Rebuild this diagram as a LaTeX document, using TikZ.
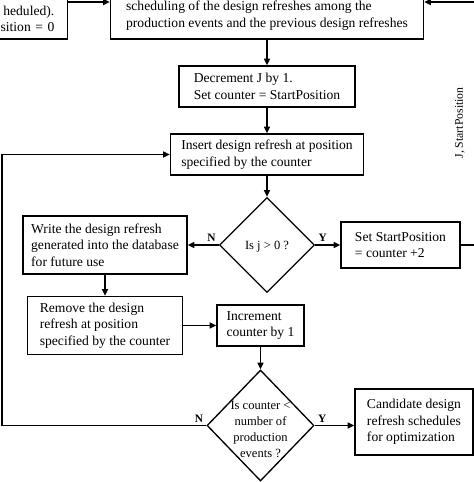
\documentclass[tikz,border=0pt]{standalone}
\usepackage{fontspec}
\setmainfont{Liberation Serif}
\usetikzlibrary{calc}
\usetikzlibrary{arrows.meta}
\usetikzlibrary{shapes.geometric}
\newcommand\dtext[2][3pt]{\makebox[0pt]{\smash{\raisebox{-#1}{\begin{tabular}{@{}c@{}}#2\end{tabular}}}}}

\tikzset{
  box/.style={draw, rectangle, align=left, inner sep=0pt, line width=1pt, font=\fontsize{10.2}{12.4}\selectfont},
  boxsize/.style 2 args={minimum width=#1*0.75pt, minimum height=#2*0.75pt},
  decision/.style={draw, diamond, inner sep=0pt, line width=1pt, font=\fontsize{9.4}{12}\selectfont},
  arr/.style={line width=1pt, -{Triangle[length=5pt,width=4.5pt]}},
  yn/.style={font=\fontsize{8.5}{10}\selectfont\bfseries, inner sep=2pt},
}

\begin{document}
\begin{tikzpicture}[x=0.75pt, y=-0.75pt]

\useasboundingbox (0,0) rectangle (474,482);
\clip (0,0) rectangle (474,482);

\coordinate (top) at (0,2);
\coordinate (left) at (2,0);

% boxes
\node[box, align=right, text width=130*0.75pt, inner xsep=9.75pt, minimum height=30pt, anchor=east] (start) at (68,19) {heduled).\\ sition = 0};
\node[box, boxsize={313}{54}] (init) at (267,12) {\mbox{}\\ scheduling of the design refreshes among the\\ production events and the previous design refreshes};
\node[box, boxsize={176}{41}] (dec) at (267,86.5) {Decrement J by 1.\\ Set counter = StartPosition};
\node[box, boxsize={193}{41}] (ins) at (267,154.5) {Insert design refresh at position\\ specified by the counter};
\node[decision, boxsize={95}{95}] (q1) at (267,245) {\dtext{Is j > 0 ?}};
\node[box, boxsize={164}{58}] (write) at (105,245) {Write the design refresh\\ generated into the database\\ for future use};
\node[box, boxsize={119}{46}] (setsp) at (400.5,245) {Set StartPosition\\ = counter +2};
\node[box, boxsize={155}{58}] (rem) at (105,325.5) {Remove the design\\ refresh at position\\ specified by the counter};
\node[box, boxsize={87}{41}] (inc) at (260.5,325.5) {Increment\\ counter by 1};
\node[decision, boxsize={107}{111}] (q2) at (260.5,425.5) {\dtext[6pt]{Is counter <\\ number of\\ production\\ events ?}};
\node[box, boxsize={118}{66}] (cand) at (414,422) {Candidate design\\ refresh schedules\\ for optimization};

\node[rotate=90, font=\fontsize{8.8}{10}\selectfont] (loopnote) at (460,123) {J, StartPosition};

% connectors
\draw[arr] (start.east |- top) -- (init.west |- top);
\draw[arr] (init) -- (dec);
\draw[arr] (dec) -- (ins);
\draw[arr] (ins) -- (q1);
\draw[arr] (q1.west) node[yn, above left] {N} -- (write.east);
\draw[arr] (q1.east) node[yn, above right] {Y} -- (setsp.west);
\draw[arr] (setsp.east) -- ++(40,0) |- (init.east |- top);
\draw[arr] (write) -- (rem);
\draw[arr] (rem) -- (inc);
\draw[arr] (inc) -- (q2);
\draw[arr] (q2.east) node[yn, above right] {Y} -- (q2.east -| cand.west);
\draw[arr] (q2.west) node[yn, above left] {N} -- (left |- q2.west) |- (ins.west);

\end{tikzpicture}
\end{document}
